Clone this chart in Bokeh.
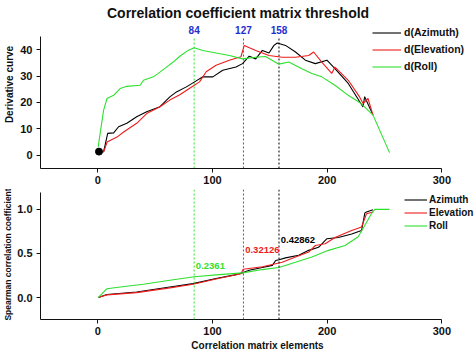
from bokeh.plotting import figure
from bokeh.models import Span, Label, Legend, LegendItem, FixedTicker, Range1d, PrintfTickFormatter
from bokeh.layouts import column
from bokeh.embed import file_html
from bokeh.resources import INLINE

FONT = "Liberation Sans"

# ---------------- data ----------------
# Top panel: derivative curves
d_az_x = [0.3, 5, 6, 8.6, 13.8, 18.1, 25.3, 33.9, 42.6, 54.2, 62.8, 68.6, 77.2, 84.4, 91.6, 100.3,
          108.9, 120.5, 126.2, 132, 137.7, 143.5, 149.3, 153.6, 156.5, 163.7, 172.4, 181, 189.7,
          199.8, 206.8, 218.4, 231.3, 232.7, 240]
d_az_y = [1.4, 1.4, 3.2, 8.3, 8.5, 10.8, 12.1, 14.6, 16.5, 18.4, 22.1, 24.0, 25.9, 27.8, 29.7, 29.7,
          32.2, 33.4, 34.7, 37.5, 36.5, 39.7, 38.7, 41.6, 42.5, 41.6, 39.1, 36.0, 34.7,
          36.0, 32.8, 27.2, 18.3, 22.2, 15.2]

d_el_x = [0.3, 5.2, 8.1, 16.7, 22.5, 33.9, 42.6, 54.2, 62.8, 71.5, 80.1, 88.7, 94.5, 103.1, 114.7,
          124.8, 127.7, 137.7, 149.3, 160.8, 172.4, 183.9, 188.2, 195.3, 204, 206.8, 218.4, 228.4,
          231.3, 235.6, 240]
d_el_y = [1.4, 1.4, 5.0, 6.9, 8.8, 12.1, 15.8, 18.4, 20.9, 22.9, 25.4, 27.8, 31.6, 34.1, 36.0,
          37.3, 41.6, 39.7, 37.8, 37.1, 37.1, 37.8, 39.1, 35.3, 31.0, 33.4, 28.4, 22.0,
          19.6, 21.5, 15.2]

d_ro_x = [0.3, 5, 8, 13.8, 19.6, 25.3, 36.9, 39.8, 48.4, 54.2, 59.9, 65.7, 71.5, 78.7, 84, 91.6,
          103.1, 114.7, 126.2, 137.7, 146.3, 157.9, 166.5, 178, 186.7, 195.3, 206.8, 218.4, 229.9,
          240, 254.4]
d_ro_y = [3.2, 17, 21.5, 22.7, 25.3, 26.1, 26.5, 28.4, 29.7, 31.5, 33.4, 35.3, 37.5, 39.7, 40.7, 39.7,
          38.7, 37.8, 36.5, 37.1, 37.4, 34.5, 35.3, 32.8, 31.0, 29.7, 26.5, 22.7, 19.5,
          15.2, 1.0]

start_x = [1]
start_y = [1.4]

# Bottom panel: sorted Spearman coefficients
s_az_x = [0.3, 8, 33.9, 62.8, 83, 103.1, 120.5, 126.2, 132, 143.5, 152.2, 155.1, 158, 163.7, 175.2,
          183.9, 192.5, 199.8, 209.8, 221.4, 230, 232.9, 234.3, 240]
s_az_y = [0.0, 0.034, 0.063, 0.12, 0.158, 0.215, 0.26, 0.28, 0.309, 0.34, 0.365, 0.42, 0.429, 0.45, 0.48,
          0.535, 0.57, 0.667, 0.68, 0.72, 0.76, 0.96, 0.97, 0.995]

s_el_x = [0.3, 8, 33.9, 62.8, 83, 103.1, 124.8, 126.8, 143.5, 160.8, 172.4, 183.9, 189.7, 198.3, 206.8,
          221.4, 230, 234.3, 240]
s_el_y = [0.0, 0.03, 0.056, 0.11, 0.15, 0.21, 0.27, 0.321, 0.35, 0.40, 0.46, 0.516, 0.59, 0.61, 0.68,
          0.76, 0.80, 0.95, 0.97]

s_ro_x = [0.3, 8, 19.6, 39.8, 62.8, 84, 106, 126.2, 143.5, 157.9, 172.4, 186.7, 201.2, 215.6, 227.1,
          232.9, 238.6, 241.5, 254.4]
s_ro_y = [0.0, 0.10, 0.12, 0.15, 0.196, 0.236, 0.26, 0.28, 0.317, 0.34, 0.40, 0.46, 0.535, 0.59, 0.69,
          0.82, 0.95, 1.0, 1.0]

thresholds = [84, 127, 158]
threshold_labels = ["84", "127", "158"]
threshold_values = ["0.2361", "0.32126", "0.42862"]
threshold_value_y = [0.362, 0.543, 0.648]

x_ticks = [0, 100, 200, 300]
top_y_ticks = [0, 10, 20, 30, 40]
bot_y_ticks = [0, 0.5, 1.0]

BLACK = "#000000"
RED = "#ee1c1c"
GREEN = "#2ee02e"
BLUE = "#1f2fd0"
TXT = "#111111"
colors = [GREEN, RED, BLACK]


def style_axes(p, xstand, ytick_vals):
    p.xgrid.visible = False
    p.ygrid.visible = False
    p.outline_line_color = None
    for ax in (p.xaxis[0], p.yaxis[0]):
        ax.major_label_text_font = FONT
        ax.major_label_text_font_style = "bold"
        ax.major_label_text_font_size = "11px"
        ax.major_label_text_color = TXT
        ax.major_tick_out = 4
        ax.major_tick_in = 0
        ax.minor_tick_out = 0
        ax.minor_tick_in = 0
        ax.axis_line_color = TXT
        ax.major_tick_line_color = TXT
        ax.axis_label_text_font = FONT
        ax.axis_label_text_font_style = "bold"
        ax.axis_label_text_color = TXT
    p.xaxis[0].ticker = FixedTicker(ticks=x_ticks)
    p.yaxis[0].ticker = FixedTicker(ticks=ytick_vals)
    p.xaxis[0].major_label_standoff = xstand
    p.yaxis[0].major_label_standoff = 4
    p.xaxis[0].bounds = (-50, 300)


# ---------------- top figure ----------------
p1 = figure(width=474, height=189, x_range=Range1d(-50, 328.5), y_range=Range1d(-5, 58.6),
            output_backend="svg", toolbar_location=None,
            min_border_left=36, min_border_right=0, min_border_top=0, min_border_bottom=21)
style_axes(p1, 3, top_y_ticks)
p1.yaxis[0].bounds = (-5, 45)
p1.yaxis[0].axis_label = "Derivative curve"
p1.yaxis[0].axis_label_standoff = 2
p1.yaxis[0].axis_label_text_font_size = "10px"

p1.segment(x0=thresholds, y0=[-5] * 3, x1=thresholds, y1=[45] * 3,
           line_color=colors, line_dash="2 2", line_width=1)

r_az = p1.line(d_az_x, d_az_y, line_color=BLACK, line_width=1.1)
r_el = p1.line(d_el_x, d_el_y, line_color=RED, line_width=1.1)
r_ro = p1.line(d_ro_x, d_ro_y, line_color=GREEN, line_width=1.1)
p1.scatter(start_x, start_y, size=7, color=BLACK)

for t, lab in zip(thresholds, threshold_labels):
    p1.add_layout(Label(x=t, y=47.3, text=lab, text_align="center", text_baseline="middle",
                        text_font=FONT, text_font_style="bold", text_font_size="10px",
                        text_color=BLUE))

p1.add_layout(Label(x=122.3, y=53.8, text="Correlation coefficient matrix threshold",
                    text_align="center", text_baseline="middle", text_font=FONT,
                    text_font_style="bold", text_font_size="14px", text_color=TXT))

leg1 = Legend(items=[LegendItem(label="d(Azimuth)", renderers=[r_az]),
                     LegendItem(label="d(Elevation)", renderers=[r_el]),
                     LegendItem(label="d(Roll)", renderers=[r_ro])],
              location=(332, 93.5), padding=0, margin=0, spacing=0,
              border_line_color=None, background_fill_alpha=0,
              glyph_width=29, glyph_height=17, label_height=17, label_standoff=3,
              label_text_font=FONT, label_text_font_style="bold", label_text_font_size="10.5px",
              label_text_color=TXT)
p1.add_layout(leg1)

# ---------------- bottom figure ----------------
p2 = figure(width=474, height=173, x_range=Range1d(-50, 328.5), y_range=Range1d(-0.249, 1.225),
            output_backend="svg", toolbar_location=None,
            min_border_left=36, min_border_right=0, min_border_top=0, min_border_bottom=43)
style_axes(p2, 3, bot_y_ticks)
p2.yaxis[0].bounds = (-0.249, 1.19)
p2.yaxis[0].formatter = PrintfTickFormatter(format="%.1f")
p2.yaxis[0].axis_label = "Spearman correlation coefficient"
p2.yaxis[0].axis_label_standoff = 1
p2.yaxis[0].axis_label_text_font_size = "8.5px"
p2.xaxis[0].axis_label = "Correlation matrix elements"
p2.xaxis[0].axis_label_standoff = 2
p2.xaxis[0].axis_label_text_font_size = "10px"

for t, c in zip(thresholds, colors):
    p2.add_layout(Span(location=t, dimension="height", line_color=c, line_dash="2 2", line_width=1))

q_az = p2.line(s_az_x, s_az_y, line_color=BLACK, line_width=1.1)
q_el = p2.line(s_el_x, s_el_y, line_color=RED, line_width=1.1)
q_ro = p2.line(s_ro_x, s_ro_y, line_color=GREEN, line_width=1.1)

for t, v, yv, c in zip(thresholds, threshold_values, threshold_value_y, colors):
    p2.add_layout(Label(x=t + 1.5, y=yv, text=v, text_align="left", text_baseline="middle",
                        text_font=FONT, text_font_style="bold", text_font_size="9.5px",
                        text_color=c))

leg2 = Legend(items=[LegendItem(label="Azimuth", renderers=[q_az]),
                     LegendItem(label="Elevation", renderers=[q_el]),
                     LegendItem(label="Roll", renderers=[q_ro])],
              location=(364, 86.7), padding=0, margin=0, spacing=0,
              border_line_color=None, background_fill_alpha=0,
              glyph_width=23, glyph_height=13, label_height=13, label_standoff=2,
              label_text_font=FONT, label_text_font_style="bold", label_text_font_size="10px",
              label_text_color=TXT)
p2.add_layout(leg2)

layout = column(p1, p2, spacing=0)
open("out.html", "w").write(file_html(layout, INLINE))
